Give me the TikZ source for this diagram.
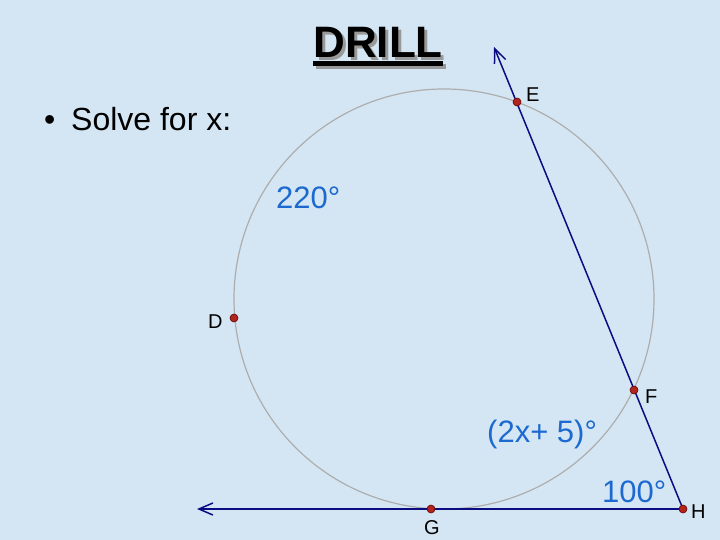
\documentclass[tikz,border=0pt]{standalone}
\usepackage{fontspec}
\setmainfont{Liberation Sans}
\usetikzlibrary{arrows.meta}
\definecolor{slidebg}{RGB}{212,230,243}
\definecolor{navyline}{RGB}{12,12,130}
\definecolor{arcblue}{RGB}{28,105,208}
\definecolor{dotred}{RGB}{178,36,30}
\begin{document}
\begin{tikzpicture}[x=1pt,y=-1pt,
  ray/.style={draw=navyline,line width=1.5pt,-{Straight Barb[length=14pt,width=12pt]}},
  ptlabel/.style={anchor=base west,inner sep=0pt,font=\fontsize{20}{20}\selectfont},
  arclabel/.style={anchor=base west,inner sep=0pt,text=arcblue,font=\fontsize{31}{31}\selectfont},
  dot/.style={circle,fill=dotred,draw=black!60!red,line width=0.6pt,inner sep=0pt,minimum size=8pt},
  titletext/.style={anchor=base,inner sep=0pt,font=\fontsize{44}{44}\selectfont\bfseries}]

\fill[slidebg] (0,0) rectangle (720,540);
\useasboundingbox (0,0) rectangle (720,540);

\coordinate (O) at (444,299);
\coordinate (E) at (517,102);
\coordinate (D) at (234,318);
\coordinate (F) at (634,390);
\coordinate (G) at (431,509);
\coordinate (H) at (683,509);
\coordinate (tipE) at (494,47);
\coordinate (tipG) at (197,509);

\draw[black!32,line width=1.2pt] (O) circle (210pt);
\draw[ray] (H) -- (tipE);
\draw[ray] (H) -- (tipG);

\node[dot] (dotE) at (E) {};
\node[dot] (dotD) at (D) {};
\node[dot] (dotF) at (F) {};
\node[dot] (dotG) at (G) {};
\node[dot] (dotH) at (H) {};

\node[ptlabel] (labE) at (526,102) {E};
\node[ptlabel] (labD) at (208,328) {D};
\node[ptlabel] (labF) at (645,403) {F};
\node[ptlabel] (labG) at (424,534) {G};
\node[ptlabel] (labH) at (691,518) {H};

\node[arclabel] (arcDE) at (276,208) {220°};
\node[arclabel] (arcFG) at (487,442) {(2x+ 5)°};
\node[arclabel] (angH) at (602,502) {100°};

\node[titletext] (drill) at (378,58) {\makebox[0pt][l]{\hspace{3pt}\raisebox{-3pt}{\color{black!40}DRILL}}DRILL};
\draw[black!40,line width=4.5pt] ([xshift=3pt,yshift=-8.5pt]drill.base west) -- ([xshift=3pt,yshift=-8.5pt]drill.base east);
\draw[black,line width=4.5pt] ([yshift=-5.5pt]drill.base west) -- ([yshift=-5.5pt]drill.base east);

\node[anchor=base west,inner sep=0pt,font=\fontsize{32}{32}\selectfont] (bullet) at (44,131) {•};
\node[anchor=base west,inner sep=0pt,font=\fontsize{32}{32}\selectfont] (task) at (71,131) {Solve for x:};
\end{tikzpicture}
\end{document}
